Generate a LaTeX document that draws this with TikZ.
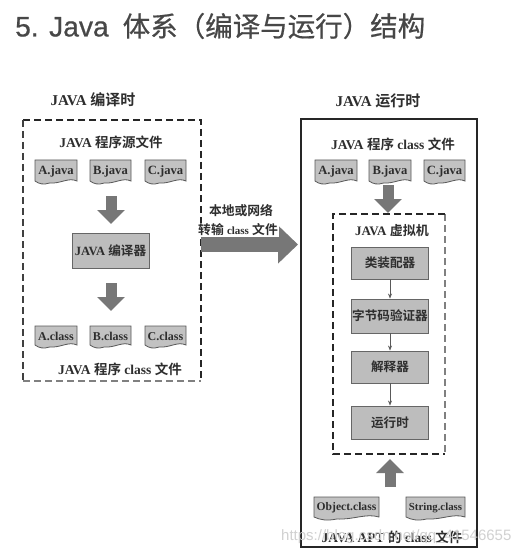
\documentclass[tikz,border=0pt]{standalone}
\usepackage{fontspec}
\setmainfont{Liberation Serif}[BoldFont={Liberation Serif Bold}]
\setsansfont{Liberation Sans}[FakeBold=0.6]
\newfontfamily\cjk{Noto Sans CJK SC}[BoldFont={Noto Sans CJK SC Bold}]
\newfontfamily\cjktitle{Noto Sans CJK SC}[FakeBold=0.6]
\usetikzlibrary{arrows.meta,shapes.geometric}
\definecolor{ink}{HTML}{2E2E2E}
\definecolor{filegray}{HTML}{C2C2C2}
\definecolor{boxgray}{HTML}{BDBDBD}
\definecolor{arrgray}{HTML}{777777}
\newcommand{\zh}[1]{{\cjk #1}}
\newcommand{\sz}[1]{\fontsize{#1}{#1}\selectfont}
\tikzset{
  lbl/.style={font=\bfseries\sz{13.5},text=ink,inner sep=0pt},
  hdr/.style={font=\bfseries\sz{15},text=ink,inner sep=0pt},
  procbox/.style={draw=black!60,line width=0.9pt,fill=boxgray,minimum width=77pt,inner sep=0pt,
     font=\bfseries\sz{12.6},text=ink},
  filetext/.style={font=\bfseries\sz{12.6},text=ink,inner sep=0pt},
  blockarrow/.style={draw=arrgray,line width=11pt,-{Triangle[length=14pt,width=27pt]}},
  thinarrow/.style={draw=black!65,line width=0.6pt,-{Stealth[length=5pt,width=4pt]}},
  darkdash/.style={draw=black!85,line width=1.8pt,dash pattern=on 7pt off 4pt},
  lightdash/.style={draw=black!50,line width=1.2pt,dash pattern=on 7pt off 4pt},
  pics/docshape/.style args={#1/#2/#3/#4}{code={
    \path[draw=black!65,line width=0.8pt,fill=filegray]
      (0,0) -- (#1,0) -- (#1,#2-5)
      .. controls (#1*0.8,#2-9) and (#1*0.6,#2-2) .. (#1*0.35,#2-3)
      .. controls (#1*0.2,#2-1) and (#1*0.1,#2-2) .. (0,#2-5) -- cycle;
    \node[filetext,font=\bfseries\sz{#4}] at (#1/2,#2/2-2) {#3};
  }}
}
\begin{document}
\begin{tikzpicture}[x=1pt,y=-1pt]
\useasboundingbox[fill=white] (0,0) rectangle (524,556);

\node[anchor=west,inner sep=0pt,text=black!72,font=\sffamily\sz{28.2}] (title) at (15,26)
  {5. Java {\sz{27.5}\cjktitle\ 体系（编译与运行）结构}};

% left
\node[hdr] (hleft) at (93,100) {JAVA \zh{编译时}};
\node[hdr] (hright) at (378,101) {JAVA \zh{运行时}};

\coordinate (ltl) at (23,120); \coordinate (ltr) at (201,120);
\coordinate (lbl) at (23,381); \coordinate (lbr) at (201,381);
\draw[darkdash] (ltl) -- (ltr) -- (lbr);
\draw[lightdash,draw=black!75] (ltl) -- (lbl);
\draw[lightdash] (lbl) -- (lbr);

\node[lbl] (lsrc) at (111,142) {JAVA \zh{程序源文件}};
\pic at (35,160) {docshape={42/26/A.java/12.6}};
\pic at (90,160) {docshape={41/26/B.java/12.6}};
\pic at (145,160) {docshape={41/26/C.java/12.6}};
\coordinate (a1s) at (111,196); \coordinate (a1e) at (111,224);
\draw[blockarrow] (a1s) -- (a1e);
\node[procbox,minimum height=35pt] (compiler) at (110.5,250.5) {JAVA \zh{编译器}};
\coordinate (a2s) at (111,283); \coordinate (a2e) at (111,311);
\draw[blockarrow] (a2s) -- (a2e);
\pic at (35,326) {docshape={42/24/A.class/12}};
\pic at (90,326) {docshape={41/24/B.class/12}};
\pic at (145,326) {docshape={41/24/C.class/12}};
\node[lbl] (lcls) at (120,369) {JAVA \zh{程序} class \zh{文件}};

% transfer
\coordinate (ts) at (201,244.5); \coordinate (te) at (298,244.5);
\draw[blockarrow,line width=15pt,-{Triangle[length=20pt,width=37pt]}] (ts) -- (te);
\node[lbl,font=\bfseries\sz{12.8}] (t1) at (241,211) {\zh{本地或网络}};
\node[lbl,font=\bfseries\sz{12.8},fill=white,inner sep=1pt] (t2) at (238,230) {\zh{转输} {\sz{11}class} \zh{文件}};

% right
\node[draw=black!85,line width=2pt,minimum width=176pt,minimum height=428pt,inner sep=0pt] (rbox) at (389,333) {};
\node[lbl] (rcls) at (393,144) {JAVA \zh{程序} class \zh{文件}};
\pic at (315,160) {docshape={42/26/A.java/12.6}};
\pic at (369,160) {docshape={42/26/B.java/12.6}};
\pic at (424,160) {docshape={41/26/C.java/12.6}};
\coordinate (a3s) at (388,185); \coordinate (a3e) at (388,213);
\draw[blockarrow] (a3s) -- (a3e);

\coordinate (itl) at (333,214); \coordinate (itr) at (445,214);
\coordinate (ibl) at (333,454); \coordinate (ibr) at (445,454);
\draw[lightdash] (itr) -- (ibr);
\draw[darkdash] (itr) -- (itl) -- (ibl) -- (ibr);

\node[lbl,font=\bfseries\sz{13}] (jvm) at (392,231) {JAVA \zh{虚拟机}};
\node[procbox,minimum height=32pt] (b1) at (390,263) {\zh{类装配器}};
\node[procbox,minimum height=34pt] (b2) at (390,316) {\zh{字节码验证器}};
\node[procbox,minimum height=32pt] (b3) at (390,367) {\zh{解释器}};
\node[procbox,minimum height=33pt] (b4) at (390,422.5) {\zh{运行时}};
\draw[thinarrow] (b1) -- (b2);
\draw[thinarrow] (b2) -- (b3);
\draw[thinarrow] (b3) -- (b4);

\coordinate (a4s) at (390,487); \coordinate (a4e) at (390,459);
\draw[blockarrow] (a4s) -- (a4e);
\pic at (314,497) {docshape={65/25/Object.class/11.6}};
\pic at (406,497) {docshape={59/25/String.class/10.8}};
\node[lbl] (api) at (392,537) {JAVA APT \zh{的} class \zh{文件}};

\node[anchor=west,inner sep=0pt,text=black!18,font=\rmfamily\fontspec{Liberation Sans}\sz{15}] (wm) at (281,537)
  {https://blog.csdn.net/qq\_41546655};
\end{tikzpicture}
\end{document}
